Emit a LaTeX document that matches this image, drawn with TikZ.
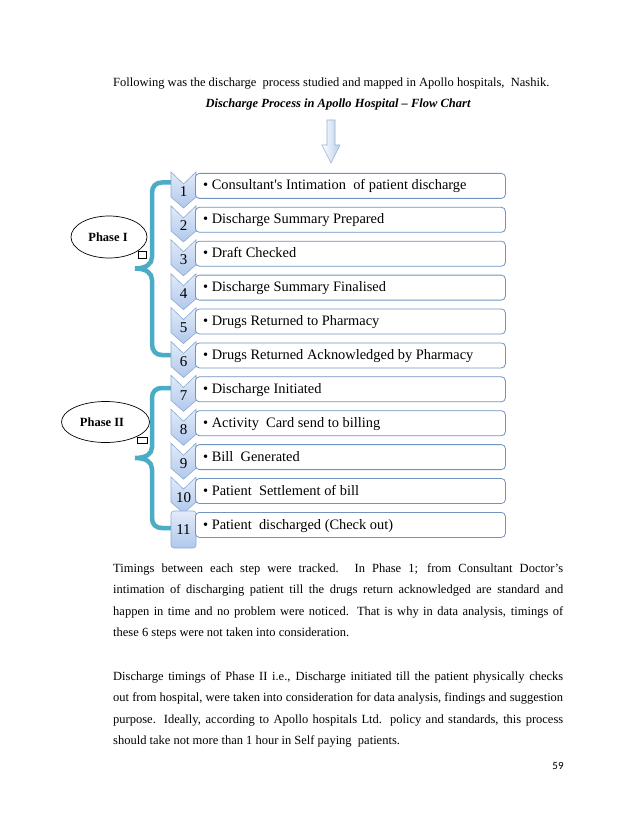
\documentclass[tikz,border=0pt]{standalone}
\usepackage{fontspec}
\setmainfont{Liberation Serif}
\newfontfamily\rowfont{Liberation Serif}[Ligatures=TeXOff]
\newfontfamily\pagenumfont{Carlito}
\usetikzlibrary{shapes.geometric}
\definecolor{rowline}{RGB}{112,148,192}
\definecolor{chevline}{RGB}{140,170,212}
\definecolor{chevtop}{RGB}{226,235,249}
\definecolor{chevbot}{RGB}{176,200,236}
\definecolor{bracecol}{RGB}{75,172,198}
\definecolor{arrowblue}{RGB}{184,205,234}
\definecolor{arrowline}{RGB}{150,178,214}
\begin{document}
\begin{tikzpicture}[x=1pt,y=-1pt,
  rowbox/.style={draw=rowline, line width=0.8pt, fill=white, rounded corners=4pt,
    minimum width=310pt, minimum height=25pt, inner sep=0pt, anchor=north west},
  chev/.style={draw=chevline, line width=0.6pt, top color=chevtop, bottom color=chevbot},
  numtext/.style={inner sep=0pt, font=\fontsize{15}{17}\selectfont},
  rowtext/.style={inner sep=0pt, anchor=base west, font=\rowfont\fontsize{14.4}{16}\selectfont},
  bracestyle/.style={draw=bracecol, line width=4.5pt},
  phasebox/.style={draw=black, line width=0.7pt, fill=white},
  phasetext/.style={inner sep=0pt, font=\fontsize{12.5}{14}\selectfont\bfseries},
  bodytext/.style={inner sep=0pt, anchor=base west, font=\fontsize{12.5}{15}\selectfont},
  arrowstyle/.style={draw=arrowline, line width=0.6pt, left color=white, right color=arrowblue}
]
\useasboundingbox (0,0) rectangle (638,826);
\fill[white] (0,0) rectangle (638,826);

% heading lines
\node[bodytext] (intro) at (113,87) {Following was the discharge\ \ process studied and mapped in Apollo hospitals,\ \ Nashik.};
\node[inner sep=0pt, anchor=base, font=\fontsize{12.5}{15}\selectfont\bfseries\itshape] (title) at (338,108) {Discharge Process in Apollo Hospital -- Flow Chart};

% down arrow
\draw[arrowstyle] (327,120) -- (335,120) -- (335,145) -- (340,145) -- (331,163) -- (322,145) -- (327,145) -- cycle;

% braces
\draw[bracestyle] (180,182.5) -- (162,182.5) .. controls (156,182.5) and (152,186) .. (152,193) -- (152,257)
  .. controls (152,264) and (146,268.5) .. (135,268.5)
  .. controls (146,268.5) and (152,273) .. (152,280) -- (152,344)
  .. controls (152,351) and (156,355) .. (162,355) -- (180,355);
\draw[bracestyle] (180,388) -- (162,388) .. controls (156,388) and (152,391.5) .. (152,398) -- (152,447)
  .. controls (152,454) and (146,458) .. (135,458)
  .. controls (146,458) and (152,462) .. (152,469) -- (152,518)
  .. controls (152,524.5) and (156,528) .. (162,528) -- (180,528);

% chevrons with numbers
\foreach \k in {1,...,10} {
  \pgfmathsetmacro\t{172+(\k-1)*33.9}
  \draw[chev] (171,\t) -- (183.5,\t+12) -- (196,\t) -- (196,\t+25) -- (183.5,\t+36) -- (171,\t+25) -- cycle;
  \node[numtext] (n\k) at (183.5,\t+20) {\k};
}
\draw[chev, rounded corners=3pt] (171,511) rectangle (196,548);
\node[numtext] (n11) at (183.5,530) {11};

% row boxes
\foreach \k in {1,...,11} {
  \node[rowbox] (r\k) at (195,{173+(\k-1)*33.9}) {};
}
\foreach \k/\txt in {1/{Consultant's Intimation\ \ of patient discharge},
  2/{Discharge Summary Prepared},
  3/{Draft Checked},
  4/{Discharge Summary Finalised},
  5/{Drugs Returned to Pharmacy},
  6/{Drugs Returned Acknowledged by Pharmacy},
  7/{Discharge Initiated},
  8/{Activity\ \ Card send to billing},
  9/{Bill\ \ Generated},
  10/{Patient\ \ Settlement of bill},
  11/{Patient\ \ discharged (Check out)}} {
  \node[rowtext] (t\k) at (203,{190+(\k-1)*33.9}) {•\ \txt};
}

% phase callouts
\draw[phasebox] (138.3,251.7) -- (146,251.7) -- (146,258.3) -- (138.3,258.3) -- cycle;
\node[phasebox, ellipse, minimum width=76pt, minimum height=42pt, inner sep=0pt] (ph1) at (109,237) {};
\draw[line width=0.7pt] (138.3,251.2) -- (138.3,258.3) -- (146,258.3) -- (146,251.7) -- (140,251.7);
\node[phasetext] (ph1t) at (108,237) {Phase I};

\draw[phasebox] (137.3,437) -- (147.3,437) -- (147.3,443.3) -- (137.3,443.3) -- cycle;
\node[phasebox, ellipse, minimum width=88pt, minimum height=41pt, inner sep=0pt] (ph2) at (105.5,422) {};
\draw[line width=0.7pt] (137.3,436.5) -- (137.3,443.3) -- (147.3,443.3) -- (147.3,437) -- (139,437);
\node[phasetext] (ph2t) at (102,422) {Phase II};

% body text
\node[bodytext] (b1) at (113,572) {\makebox[450pt][s]{Timings between each step were tracked. In Phase 1; from Consultant Doctor’s}};
\node[bodytext] (b2) at (113,593.6) {\makebox[450pt][s]{intimation of discharging patient till the drugs return acknowledged are standard and}};
\node[bodytext] (b3) at (113,615.2) {\makebox[450pt][s]{happen in time and no problem were noticed. That is why in data analysis, timings of}};
\node[bodytext] (b4) at (113,636.8) {these\ 6 steps were not taken into consideration.};
\node[bodytext] (b5) at (113,680) {\makebox[450pt][s]{Discharge timings of Phase II i.e., Discharge initiated till the patient physically checks}};
\node[bodytext] (b6) at (113,701.6) {\makebox[450pt][s]{out from hospital, were taken into consideration for data analysis, findings and suggestion}};
\node[bodytext] (b7) at (113,723.2) {\makebox[450pt][s]{purpose. Ideally, according to Apollo hospitals Ltd. policy and standards, this process}};
\node[bodytext] (b8) at (113,744.8) {should take not more than 1 hour in Self paying\ \ patients.};

% page number
\node[inner sep=0pt, anchor=base, font=\pagenumfont\fontsize{11}{13}\selectfont] (pg) at (558,769) {59};
\end{tikzpicture}
\end{document}
